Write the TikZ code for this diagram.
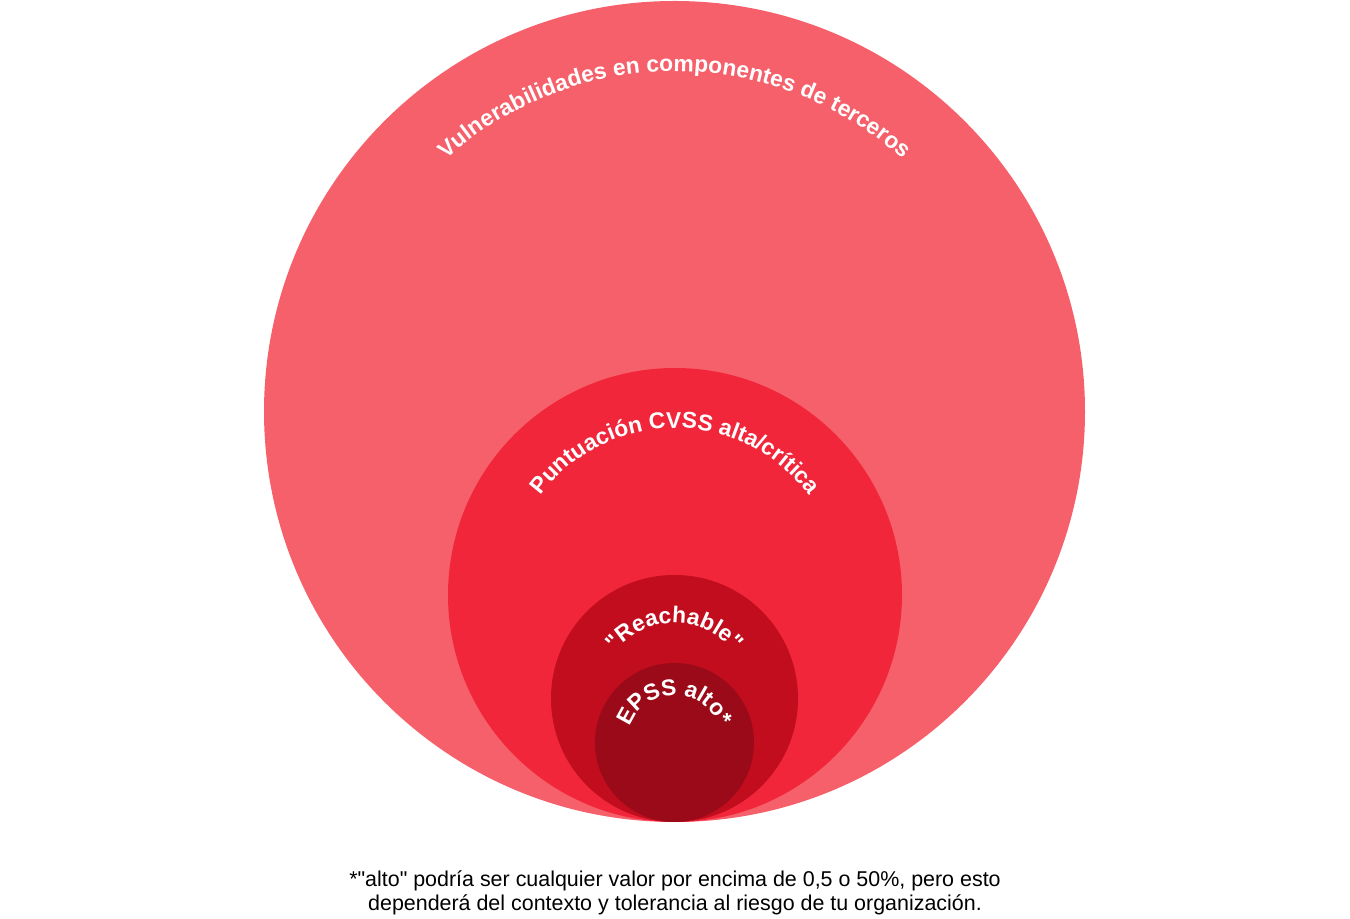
\documentclass[tikz,border=0pt]{standalone}
\usepackage{fontspec}
\setmainfont{Liberation Sans}
\usetikzlibrary{decorations.text}
\definecolor{vulnred}{HTML}{F5606B}
\definecolor{cvssred}{HTML}{F1263A}
\definecolor{reachred}{HTML}{C10D1E}
\definecolor{epssred}{HTML}{9A0A18}
\tikzset{
  ring/.style={fill=#1, draw=none},
  arclabel/.style={decorate, decoration={text along path, text align=center,
    text color=white, text={|\bfseries\fontsize{13}{15}\selectfont|#1}}},
  note/.style={align=center, font=\fontsize{12.2}{13.6}\selectfont},
}
\begin{document}
\begin{tikzpicture}[x=0.02cm,y=0.02cm]
  \useasboundingbox (0,0) rectangle (1350,919);
  \coordinate (vuln) at (674.5,507.5);
  \coordinate (cvss) at (675,324);
  \coordinate (reach) at (674.5,220.5);
  \coordinate (epss) at (674.5,176.5);
  \fill[ring=vulnred] (vuln) circle[radius=410.5];
  \fill[ring=cvssred] (cvss) circle[radius=227];
  \fill[ring=reachred] (reach) circle[radius=123.5];
  \fill[ring=epssred] (epss) circle[radius=79.5];
  \path[arclabel={Vulnerabilidades en componentes de terceros}]
    (vuln) ++(150:340) arc[start angle=150, end angle=30, radius=340];
  \path[arclabel={Puntuación CVSS alta/crítica}]
    (cvss) ++(160:167) arc[start angle=160, end angle=20, radius=167];
  \path[arclabel={{\textquotedbl}Reachable{\textquotedbl}}]
    (reach) ++(170:75.5) arc[start angle=170, end angle=10, radius=75.5];
  \path[arclabel={EPSS alto*}]
    (epss) ++(175:47.5) arc[start angle=175, end angle=5, radius=47.5];
  \node[note] (footnote) at (675,26) {*\textquotedbl alto\textquotedbl{} podría ser cualquier valor por encima de 0,5 o 50\%, pero esto\\dependerá del contexto y tolerancia al riesgo de tu organización.};
\end{tikzpicture}
\end{document}
